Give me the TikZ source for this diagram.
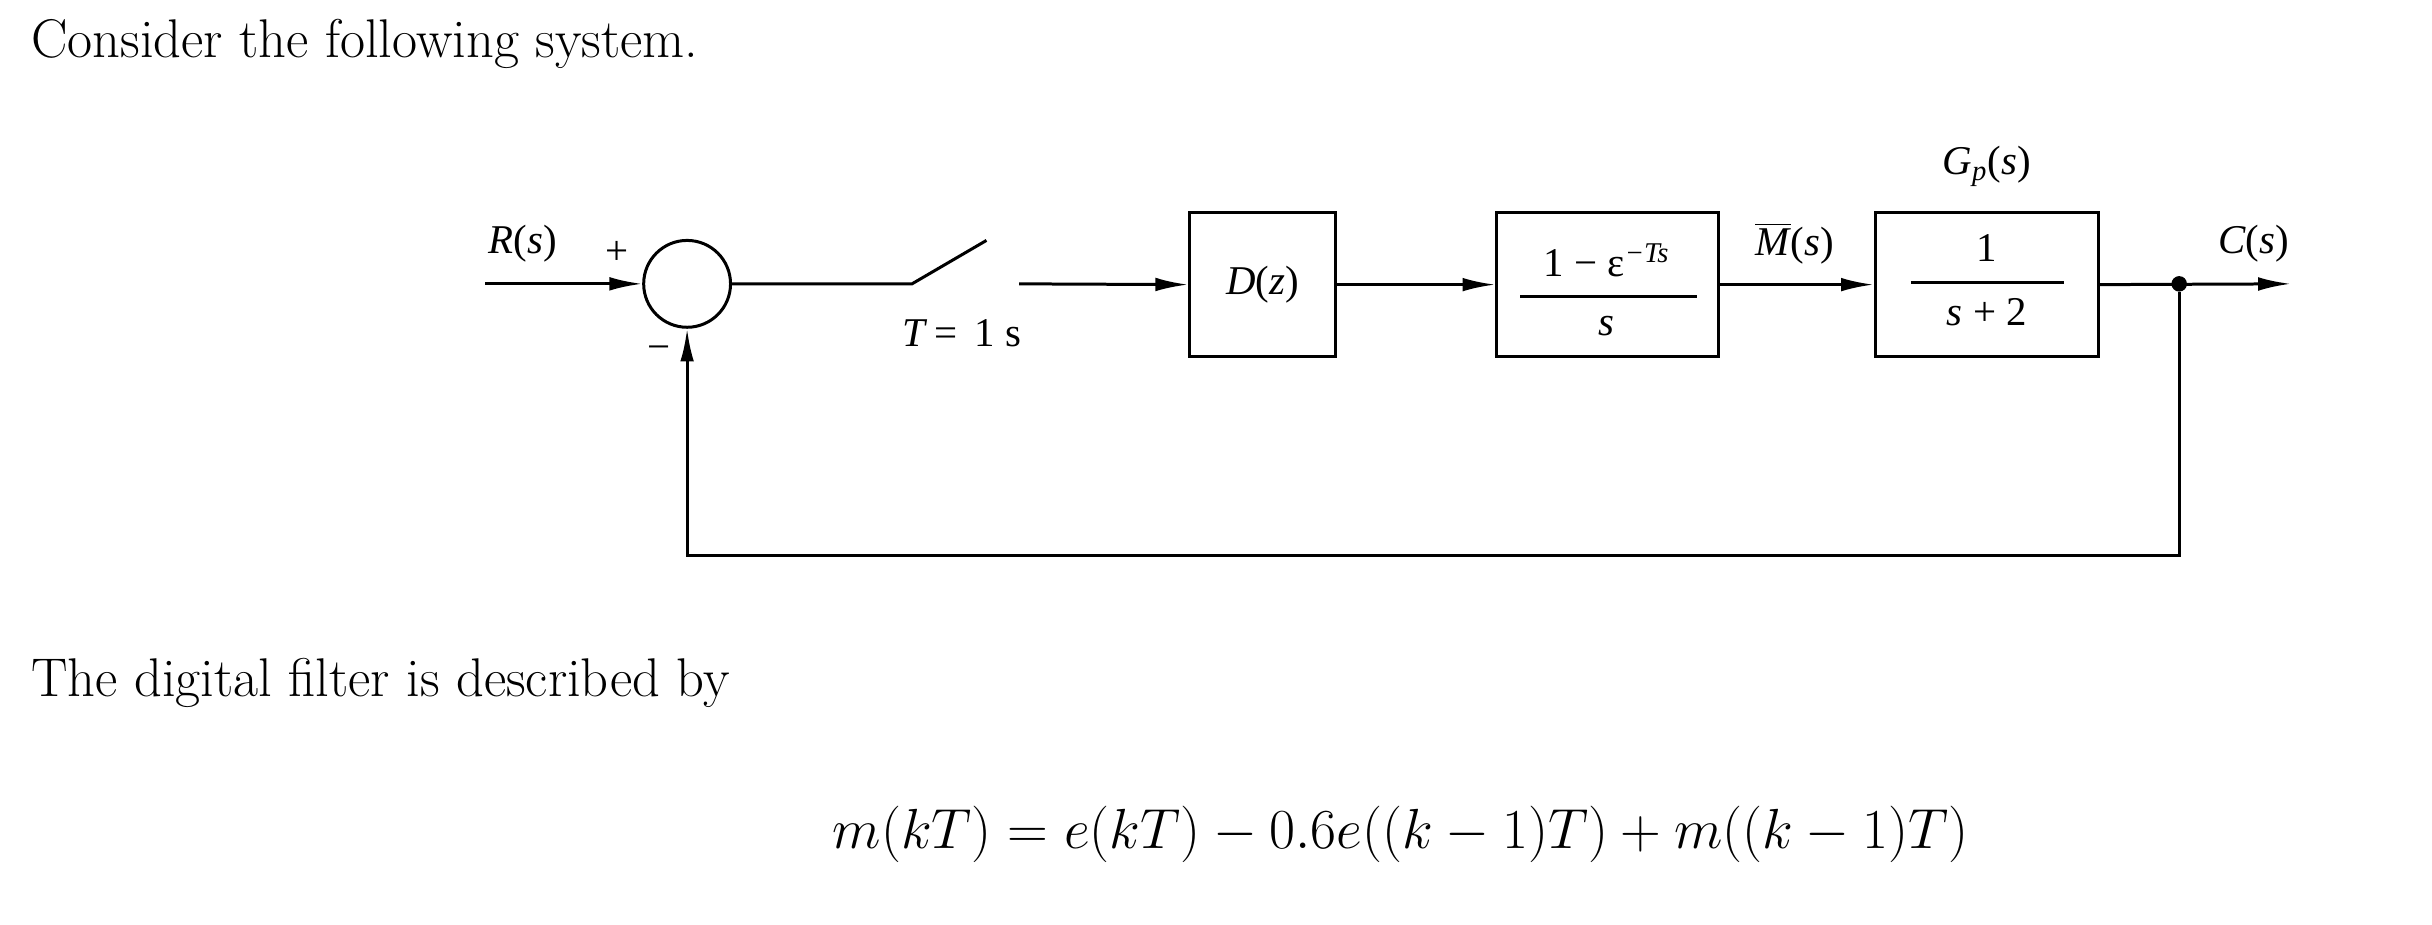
\documentclass[tikz,border=0pt]{standalone}
\usepackage{fontspec}
\newfontfamily\tf{Liberation Serif}
\usetikzlibrary{arrows.meta}
\begin{document}
\begin{tikzpicture}[x=0.02cm,y=-0.02cm,
 blk/.style={draw,line width=1.1pt},
 ln/.style={line width=1.1pt},
 arr/.style={ln,-{Latex[length=12pt,width=5pt]}},
 dl/.style={font=\tf\fontsize{15}{18}\selectfont},
 big/.style={font=\fontsize{20}{24}\selectfont}]
\useasboundingbox (0,0) rectangle (1568,596);
\node[big,anchor=west] (t1) at (14,28) {Consider the following system.};
\node[big,anchor=west] (t2) at (14,440) {The digital filter is described by};
\node[big] (eq) at (903,538) {$m(kT)=e(kT)-0.6e((k-1)T)+m((k-1)T)$};
\coordinate (rin) at (313,183);
\node[draw,circle,line width=1.1pt,minimum size=56*0.02cm,inner sep=0] (sum) at (443,183) {};
\node[dl] (R) at (337,157) {\textit{R}(\textit{s})};
\node[dl] (plus) at (398,163) {+};
\node[dl] (minus) at (425,228) {−};
\coordinate (s1) at (588,183);
\coordinate (s2) at (636,155);
\coordinate (s3) at (657,183);
\node[dl] (T) at (620,215) {\textit{T}\,=\, 1 s};
\node[blk,minimum width=94*0.02cm,minimum height=93*0.02cm,dl] (D) at (814,183.5) {\textit{D}(\textit{z})};
\node[blk,minimum width=143*0.02cm,minimum height=93*0.02cm] (Z) at (1036.5,183.5) {};
\node[dl] (zn) at (1036,168) {1 − ε\textsuperscript{\textit{−Ts}}};
\node[dl] (zd) at (1036,210) {\textit{s}};
\draw[ln] (980,191) -- (1094,191);
\node[blk,minimum width=144*0.02cm,minimum height=93*0.02cm] (G) at (1281,183.5) {};
\node[dl] (gn) at (1281,160) {1};
\node[dl] (gd) at (1281,201) {\textit{s} + 2};
\draw[ln] (1232,182) -- (1331,182);
\node[dl] (Gp) at (1281,107) {\textit{G\textsubscript{p}}(\textit{s})};
\node[dl] (M) at (1157,157) {$\overline{\mbox{\textit{M}}}$(\textit{s})};
\node[dl] (C) at (1453,157) {\textit{C}(\textit{s})};
\coordinate (cout) at (1477,183);
\node[circle,fill,inner sep=0,minimum size=10*0.02cm] (dot) at (1405,183) {};
\coordinate (fb1) at (1405,358);
\coordinate (fb2) at (443,358);
\draw[arr] (rin) -- (sum.west);
\draw[ln] (sum.east) -- (s1) -- (s2);
\draw[arr] (s3) -- (D.west);
\draw[arr] (D.east) -- (Z.west);
\draw[arr] (Z.east) -- (G.west);
\draw[arr] (G.east) -- (cout);
\draw[arr] (dot) -- (fb1) -- (fb2) -- (sum.south);
\end{tikzpicture}
\end{document}
